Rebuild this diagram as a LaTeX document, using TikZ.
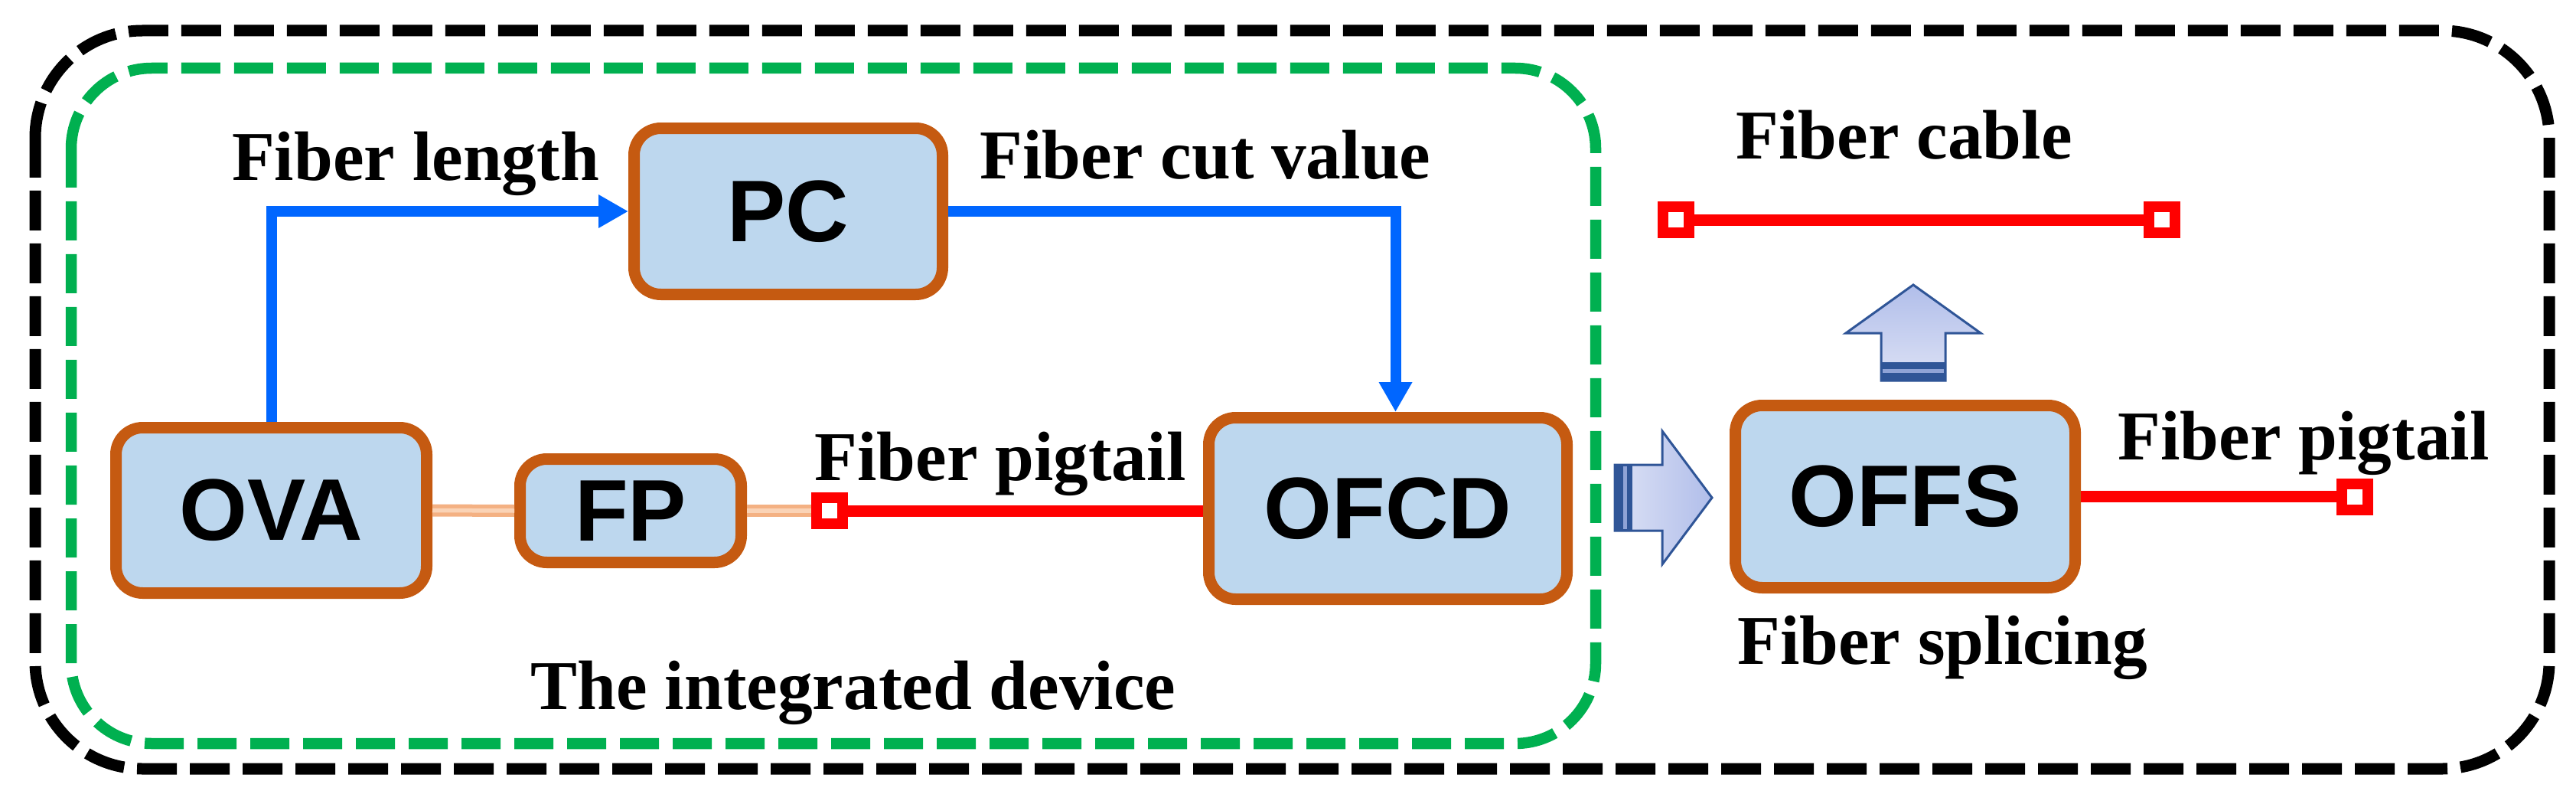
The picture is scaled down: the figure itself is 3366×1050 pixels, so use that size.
\documentclass[tikz,border=0pt]{standalone}
\usepackage{fontspec}
\newfontfamily\labfont{Liberation Serif}
\newfontfamily\boxfont{Liberation Sans}
\usetikzlibrary{arrows.meta,calc}
\definecolor{boxfill}{HTML}{BDD7EE}
\definecolor{boxborder}{HTML}{C55A11}
\definecolor{sigblue}{HTML}{0066FF}
\definecolor{fibred}{HTML}{FF0000}
\definecolor{dgreen}{HTML}{00B050}
\definecolor{pigout}{HTML}{F4B183}
\definecolor{pigin}{HTML}{FAD3B6}
\definecolor{arrline}{HTML}{2F5597}
\definecolor{arrlight}{HTML}{DCE1F5}
\definecolor{arrdark}{HTML}{B1BEEA}
\definecolor{stripe}{HTML}{8FA3D6}
\tikzset{
  unitbox/.style={draw=boxborder, fill=boxfill, line width=1.5mm, rounded corners=3.5mm,
    inner sep=0pt, font=\boxfont\bfseries\fontsize{32.5}{36}\selectfont},
  lab/.style={font=\labfont\bfseries\fontsize{26}{30}\selectfont, inner sep=0pt, anchor=base},
  sig/.style={draw=sigblue, line width=1.4mm, -{Triangle[length=3.9mm,width=4.1mm]}},
  redline/.style={draw=fibred, line width=1.5mm},
  endsq/.style={draw=fibred, fill=white, line width=1.4mm, minimum size=3.4mm, inner sep=0pt, rectangle},
  outerbox/.style={draw=black, line width=1.5mm, dash pattern=on 5.2mm off 1.7mm, rounded corners=14mm},
  greenbox/.style={draw=dgreen, line width=1.45mm, dash pattern=on 5.1mm off 1.8mm, rounded corners=10.5mm},
  blockarrow/.style={draw=arrline, line width=0.3mm, line join=miter},
}
\begin{document}
\begin{tikzpicture}[x=0.1mm, y=-0.1mm]
\useasboundingbox (0,0) rectangle (3366,1050);

% dashed enclosures
\draw[outerbox] (46,40) rectangle (3331,1004);
\draw[greenbox] (93,89) rectangle (2085,971);

% units
\node[unitbox, minimum width=40.6mm, minimum height=21.6mm] (OVA) at (354.5,666.5) {OVA};
\node[unitbox, minimum width=28.9mm, minimum height=13.5mm] (FP) at (824,667) {FP};
\node[unitbox, minimum width=40.3mm, minimum height=21.7mm] (PC) at (1030,276) {PC};
\node[unitbox, minimum width=46.8mm, minimum height=23.7mm] (OFCD) at (1813.5,664) {OFCD};
\node[unitbox, minimum width=44.4mm, minimum height=23.8mm] (OFFS) at (2489.5,648.5) {OFFS};

% fiber end squares
\node[endsq] (sq1) at (1084,667) {};
\node[endsq] (sq2) at (2190,287) {};
\node[endsq] (sq3) at (2825,287) {};
\node[endsq] (sq4) at (3077,649) {};

% light orange fibre
\draw[draw=pigout, line width=1.6mm] (OVA.east) -- (FP.west);
\draw[draw=pigin, line width=0.55mm] (OVA.east) -- (FP.west);
\draw[draw=pigout, line width=1.6mm] (FP.east) -- (sq1.west);
\draw[draw=pigin, line width=0.55mm] (FP.east) -- (sq1.west);

% red fibres
\draw[redline] (sq1.east) -- (sq1.east -| OFCD.west);
\draw[redline] (sq2.east) -- (sq3.west);
\draw[redline] (OFFS.east) -- (OFFS.east -| sq4.west);
\node[endsq] at (sq1) {};
\node[endsq] at (sq2) {};
\node[endsq] at (sq3) {};
\node[endsq] at (sq4) {};

% signal arrows
\draw[sig] (OVA.north) |- (PC.west);
\draw[sig] (PC.east) -| ([xshift=1mm]OFCD.north);

% right block arrow
\shade[left color=arrlight, right color=arrdark]
  (2110,607) -- (2172,607) -- (2172,563) -- (2237,650) -- (2172,737) -- (2172,693) -- (2110,693) -- cycle;
\fill[arrline] (2110,607) rectangle (2133,693);
\fill[stripe] (2121,609) rectangle (2126,691);
\draw[blockarrow]
  (2110,607) -- (2172,607) -- (2172,563) -- (2237,650) -- (2172,737) -- (2172,693) -- (2110,693) -- cycle;

% up block arrow
\shade[top color=arrdark, bottom color=arrlight]
  (2458,497) -- (2458,435) -- (2412,435) -- (2500,372) -- (2588,435) -- (2542,435) -- (2542,497) -- cycle;
\fill[arrline] (2458,473) rectangle (2542,497);
\fill[stripe] (2460,482) rectangle (2540,487);
\draw[blockarrow]
  (2458,497) -- (2458,435) -- (2412,435) -- (2500,372) -- (2588,435) -- (2542,435) -- (2542,497) -- cycle;

% labels
\node[lab] (tlen) at (543,235) {Fiber length};
\node[lab] (tcut) at (1575,233) {Fiber cut value};
\node[lab] (tpig1) at (1307,627) {Fiber pigtail};
\node[lab] (tdev) at (1115,926) {The integrated device};
\node[lab] (tcab) at (2488,207) {Fiber cable};
\node[lab] (tpig2) at (3010,600) {Fiber pigtail};
\node[lab] (tspl) at (2538,867) {Fiber splicing};
\end{tikzpicture}
\end{document}
